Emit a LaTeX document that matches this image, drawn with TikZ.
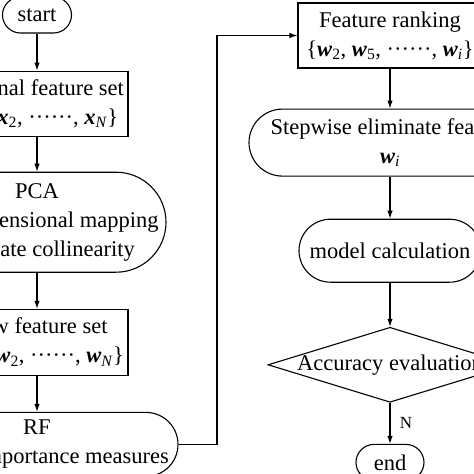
\documentclass[tikz,border=0pt]{standalone}
\usepackage{fontspec}
\setmainfont{Liberation Serif}
\usetikzlibrary{positioning,shapes.geometric,arrows.meta}
\newcommand{\fvec}[2]{\textbf{\textit{#1}}\textsubscript{#2}}
\tikzset{
  box/.style ={rectangle, draw=black, line width=1.1pt, fill=white, minimum width=182pt, minimum height=65pt, inner sep=0pt, align=center, font=\fontsize{22.5pt}{29pt}\selectfont},
  term/.style={rectangle, draw=black, line width=1.1pt, fill=white, rounded corners=#1, minimum height=2*#1, inner sep=0pt, align=center, font=\fontsize{22.5pt}{29pt}\selectfont},
  dec/.style ={diamond, draw=black, line width=1.1pt, fill=white, minimum width=244pt, minimum height=75pt, inner sep=0pt},
  dectext/.style={font=\fontsize{22.5pt}{29pt}\selectfont},
  lbl/.style ={font=\fontsize{17pt}{20pt}\selectfont},
  arr/.style ={-{Latex[length=8pt,width=5.5pt]}, draw=black, line width=1.1pt},
}
\begin{document}
\begin{tikzpicture}[x=1pt,y=1pt]
\useasboundingbox (0,0) rectangle (474,-474);
% left column
\node[term=18pt, minimum width=69pt] (start) at (37,-15) {start};
\node[box, below=37pt of start] (orig) {Original feature set\\\{\fvec{x}{1}, \fvec{x}{2}, ······, \fvec{x}{\textit{N}}\}};
\node[term=50pt, minimum width=258pt, below=35pt of orig] (pca) {PCA\\Low-dimensional mapping\\Eliminate collinearity};
\node[box, minimum height=66pt, below=36pt of pca] (newset) {New feature set\\\{\fvec{w}{1}, \fvec{w}{2}, ······, \fvec{w}{\textit{N}}\}};
\node[term=32pt, minimum width=282pt, below=36pt of newset] (rf) {RF\\Feature importance measures};
% right column
\node[box, minimum width=184pt] (rank) at (390,-35.5) {Feature ranking\\\{\fvec{w}{2}, \fvec{w}{5}, ······, \fvec{w}{\textit{i}}\}};
\node[term=33.5pt, minimum width=282pt, below=40pt of rank] (step) {Stepwise eliminate feature\\\fvec{w}{\textit{i}}};
\node[term=31.5pt, minimum width=182pt, below=42pt of step] (model) {model calculation};
\node[dec, below=44pt of model] (acc) {};
\node[dectext] (acctext) at (acc.center) {Accuracy evaluation};
\node[term=18pt, minimum width=68pt, below=41pt of acc] (end) {end};
\coordinate (fb) at (217,0);
\draw[arr] (start) -- (orig);
\draw[arr] (orig) -- (pca);
\draw[arr] (pca) -- (newset);
\draw[arr] (newset) -- (rf);
\draw[arr] (rf.east) -- (rf.east -| fb) |- (rank.west);
\draw[arr] (rank) -- (step);
\draw[arr] (step) -- (model);
\draw[arr] (model) -- (acc);
\draw[arr] (acc) -- node[lbl, right=6pt] (n) {N} (end);
\end{tikzpicture}
\end{document}
